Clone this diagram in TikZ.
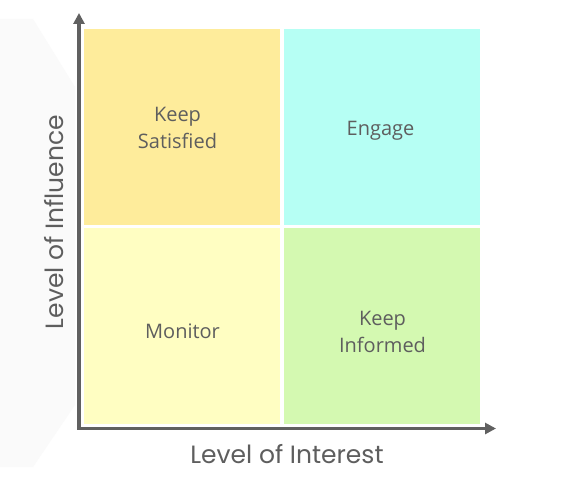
\documentclass[tikz,border=0pt]{standalone}
\usepackage{fontspec}
\setmainfont{Open Sans}
\newfontfamily\axisfont{Poppins}
\usetikzlibrary{arrows.meta}
\definecolor{txtgray}{HTML}{5E5E5E}
\definecolor{axisgray}{HTML}{606060}
\definecolor{qtl}{HTML}{FEEC9B}
\definecolor{qtr}{HTML}{B6FFF4}
\definecolor{qbl}{HTML}{FFFEC2}
\definecolor{qbr}{HTML}{D4F9B1}
\definecolor{bgshape}{HTML}{FAFAFA}
\tikzset{
  quad/.style={draw=none, minimum width=196pt, minimum height=196pt, inner sep=0pt},
  quadtext/.style={text=txtgray, align=center, inner sep=0pt, font=\fontsize{20}{27}\selectfont},
  axislabel/.style={text=txtgray, font=\axisfont\fontsize{25}{28}\selectfont, inner sep=0pt},
  axisline/.style={draw=axisgray, line width=3.5pt, line join=miter,
    {Triangle[width=11pt,length=11pt]}-{Triangle[width=11pt,length=11pt]}}
}
\begin{document}
\begin{tikzpicture}[x=1pt,y=-1pt]
\useasboundingbox (0,0) rectangle (561,481);
\fill[white] (0,0) rectangle (561,481);
\fill[bgshape] (0,19) -- (33,19) -- (75,87) -- (75,405) -- (33,467) -- (0,467) -- cycle;
\node[quad, fill=qtl] (tl) at (182,127) {};
\node[quad, fill=qtr] (tr) at (382,127) {};
\node[quad, fill=qbl] (bl) at (182,326) {};
\node[quad, fill=qbr] (br) at (382,326) {};
\node[quadtext] (tltext) at (177.5,128.4) {Keep\\Satisfied};
\node[quadtext, anchor=base] (trtext) at (380.5,135.5) {Engage};
\node[quadtext, anchor=base] (bltext) at (182.5,338.5) {Monitor};
\node[quadtext] (brtext) at (382.5,331.6) {Keep\\Informed};
\coordinate (ytip) at (79,13);
\coordinate (corner) at (79,428.5);
\coordinate (xtip) at (496,428.5);
\draw[axisline] (ytip) -- (corner) -- (xtip);
\node[axislabel] (xl) at (287,454) {Level of Interest};
\node[axislabel, rotate=90] (yl) at (54,222) {Level of Influence};
\end{tikzpicture}
\end{document}
